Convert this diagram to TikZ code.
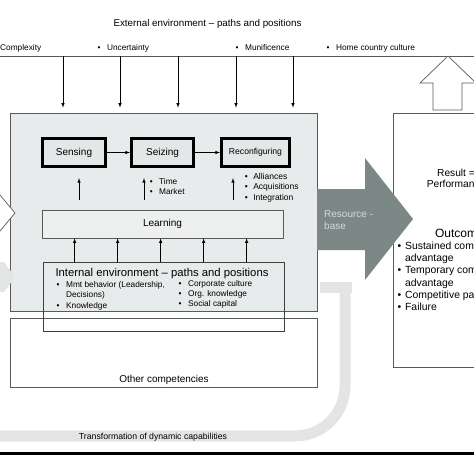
\documentclass[tikz,border=0pt]{standalone}
\usepackage{fontspec}
\setmainfont{Liberation Sans}
\usetikzlibrary{positioning}
\definecolor{panelgray}{HTML}{E8EBEB}
\definecolor{boxgray}{HTML}{E4E7E7}
\definecolor{learngray}{HTML}{EEEFEF}
\definecolor{bandgray}{HTML}{E3E5E5}
\definecolor{edgegray}{HTML}{5A5A5A}
\definecolor{basegray}{HTML}{7B8886}
\definecolor{basetext}{HTML}{D3DBDA}
\tikzset{node distance=2cm, auto, >=latex}
\tikzset{
  panel/.style={draw=edgegray, line width=0.7pt, inner sep=0pt},
  capbox/.style={draw=black, line width=2.6pt, fill=boxgray, inner sep=0pt, minimum height=28.5pt},
  txt/.style={inner sep=0pt, anchor=base west},
  small/.style={font=\fontsize{8.3}{10.5}\selectfont},
}

\begin{document}
\begin{tikzpicture}[x=1pt, y=-1pt]
\useasboundingbox (0,0) rectangle (474,474);
\clip (0,0) rectangle (474,474);

% transformation band
\draw [bandgray, line width=11pt, rounded corners=50pt] (345,288) -- (345,436) -- (-10,436);
\fill [bandgray] (320,282) rectangle (352,293);
\node (trans) [inner sep=0pt, anchor=base, font=\fontsize{8.7}{10}\selectfont] at (153,439) {Transformation of dynamic capabilities};

% external environment
\node (extenv) [inner sep=0pt, anchor=base, font=\fontsize{9.8}{12}\selectfont] at (207.5,26.5) {External environment -- paths and positions};
\coordinate (envL) at (0,56);
\coordinate (envR) at (474,56);
\draw [edgegray, line width=0.7pt] (envL) -- (envR);
\node (cplx) [txt, small] at (-9.4,50) {\textbullet\hspace{6.5pt}Complexity};
\node (unc)  [txt, small] at (97.5,50) {\textbullet\hspace{6.5pt}Uncertainty};
\node (muni) [txt, small] at (235.5,50) {\textbullet\hspace{6.5pt}Munificence};
\node (home) [txt, small] at (326.5,50) {\textbullet\hspace{6.5pt}Home country culture};

% panels
\node (main)  [panel, fill=panelgray, minimum width=307pt, minimum height=198pt] at (163.5,212) {};
\node (other) [panel, fill=white, minimum width=307pt, minimum height=69pt] at (163.5,352.5) {};
\node (othertxt) [inner sep=0pt, anchor=base, font=\fontsize{10}{12}\selectfont] at (164,382.5) {Other competencies};
\node (result) [panel, fill=white, minimum width=107pt, minimum height=254pt] at (446.5,240) {};

\foreach \x [count=\i] in {63,120,178,236,293} {
  \coordinate (dn\i) at ([xshift=\x pt]envL);
  \draw [->, line width=0.6pt, shorten >=5pt] (dn\i) -- (dn\i |- main.north);
}

% capabilities
\node (sens) [capbox, minimum width=63.4pt, font=\fontsize{10}{12}\selectfont] at (74,152.5) {Sensing};
\node (seiz) [capbox, minimum width=62.4pt, font=\fontsize{10}{12}\selectfont, right=23pt of sens] {Seizing};
\node (reco) [capbox, minimum width=68.4pt, font=\fontsize{8.6}{10}\selectfont, right=25pt of seiz] {Reconfiguring};

\draw [->, line width=0.6pt] (sens) to (seiz);
\draw [->, line width=0.6pt] (seiz) to (reco);

\node (learn) [panel, fill=learngray, minimum width=241pt, minimum height=28pt, font=\fontsize{10}{12}\selectfont] at (162.5,224) {Learning};

\coordinate (s1) at ([xshift=5pt]sens.south);
\coordinate (s2) at ([xshift=-18.5pt]seiz.south);
\coordinate (s3) at ([xshift=-22.5pt]reco.south);
\foreach \i in {1,2,3}
  \draw [->, line width=0.6pt, shorten <=10pt, shorten >=10pt] (s\i |- learn.north) -- (s\i);

\node (seizlist) [txt, small] at (149.6,184)
  {\begin{tabular}[t]{@{}l@{\hspace{6.5pt}}l@{}}\textbullet & Time\\ \textbullet & Market\end{tabular}};
\node (recolist) [txt, font=\fontsize{8.5}{10.5}\selectfont] at (244.6,179)
  {\begin{tabular}[t]{@{}l@{\hspace{5.5pt}}l@{}}\textbullet & Alliances\\ \textbullet & Acquisitions\\ \textbullet & Integration\end{tabular}};

% internal environment
\node (intenv) [draw=black!75, line width=0.7pt, inner sep=0pt, minimum width=241pt, minimum height=69pt] at (163.5,296.5) {};
\node (inttitle) [inner sep=0pt, anchor=base, font=\fontsize{11.3}{13}\selectfont] at (162,276) {Internal environment -- paths and positions};
\node (intleft) [txt, small] at (56.5,287)
  {\begin{tabular}[t]{@{}l@{\hspace{6.5pt}}l@{}}\textbullet & Mmt behavior (Leadership,\\ & Decisions)\\ \textbullet & Knowledge\end{tabular}};
\node (intright) [txt, font=\fontsize{8.3}{10}\selectfont] at (178.5,286)
  {\begin{tabular}[t]{@{}l@{\hspace{6.5pt}}l@{}}\textbullet & Corporate culture\\ \textbullet & Org. knowledge\\ \textbullet & Social capital\end{tabular}};

\foreach \d [count=\i] in {32,75,118,161,204} {
  \coordinate (up\i) at ([xshift=\d pt]intenv.north west);
  \draw [->, line width=0.6pt] (up\i) -- (up\i |- learn.south);
}

% arrows at the left edge
\filldraw [fill=white, draw=edgegray, line width=0.7pt] (-10,183) -- (15,213) -- (-10,243);
\fill [bandgray] (-5,262) -- (4,262) -- (15,277) -- (4,292) -- (-5,292) -- cycle;

% resource base
\fill [basegray] (317,189) -- (365,189) -- (365,158) -- (413,219) -- (365,280) -- (365,250) -- (317,250) -- cycle;
\node (restxt) [txt, text=basetext, font=\fontsize{10}{12}\selectfont] at (324,217.5)
  {\begin{tabular}[t]{@{}l@{}}Resource -\\ base\end{tabular}};

% result
\filldraw [fill=white, draw=edgegray, line width=0.7pt] (448,56) -- (476,83) -- (462,83) -- (462,110) -- (433,110) -- (433,83) -- (420,83) -- cycle;
\node (restitle) [inner sep=0pt, anchor=base, font=\fontsize{10.2}{11}\selectfont] at (456,176.5)
  {\begin{tabular}[t]{@{}c@{}}Result =\\ Performance\end{tabular}};
\node (outc) [inner sep=0pt, anchor=base, font=\fontsize{12}{14}\selectfont] at (459.4,237) {Outcome};
\node (outlist) [txt, font=\fontsize{10.4}{12.2}\selectfont] at (397.3,249.5)
  {\begin{tabular}[t]{@{}l@{\hspace{4pt}}l@{}}\textbullet & Sustained competitive\\ & advantage\\ \textbullet & Temporary competitive\\ & advantage\\ \textbullet & Competitive parity\\ \textbullet & Failure\end{tabular}};

\draw [line width=3pt] (0,453) -- (474,453);
\end{tikzpicture}
\end{document}
